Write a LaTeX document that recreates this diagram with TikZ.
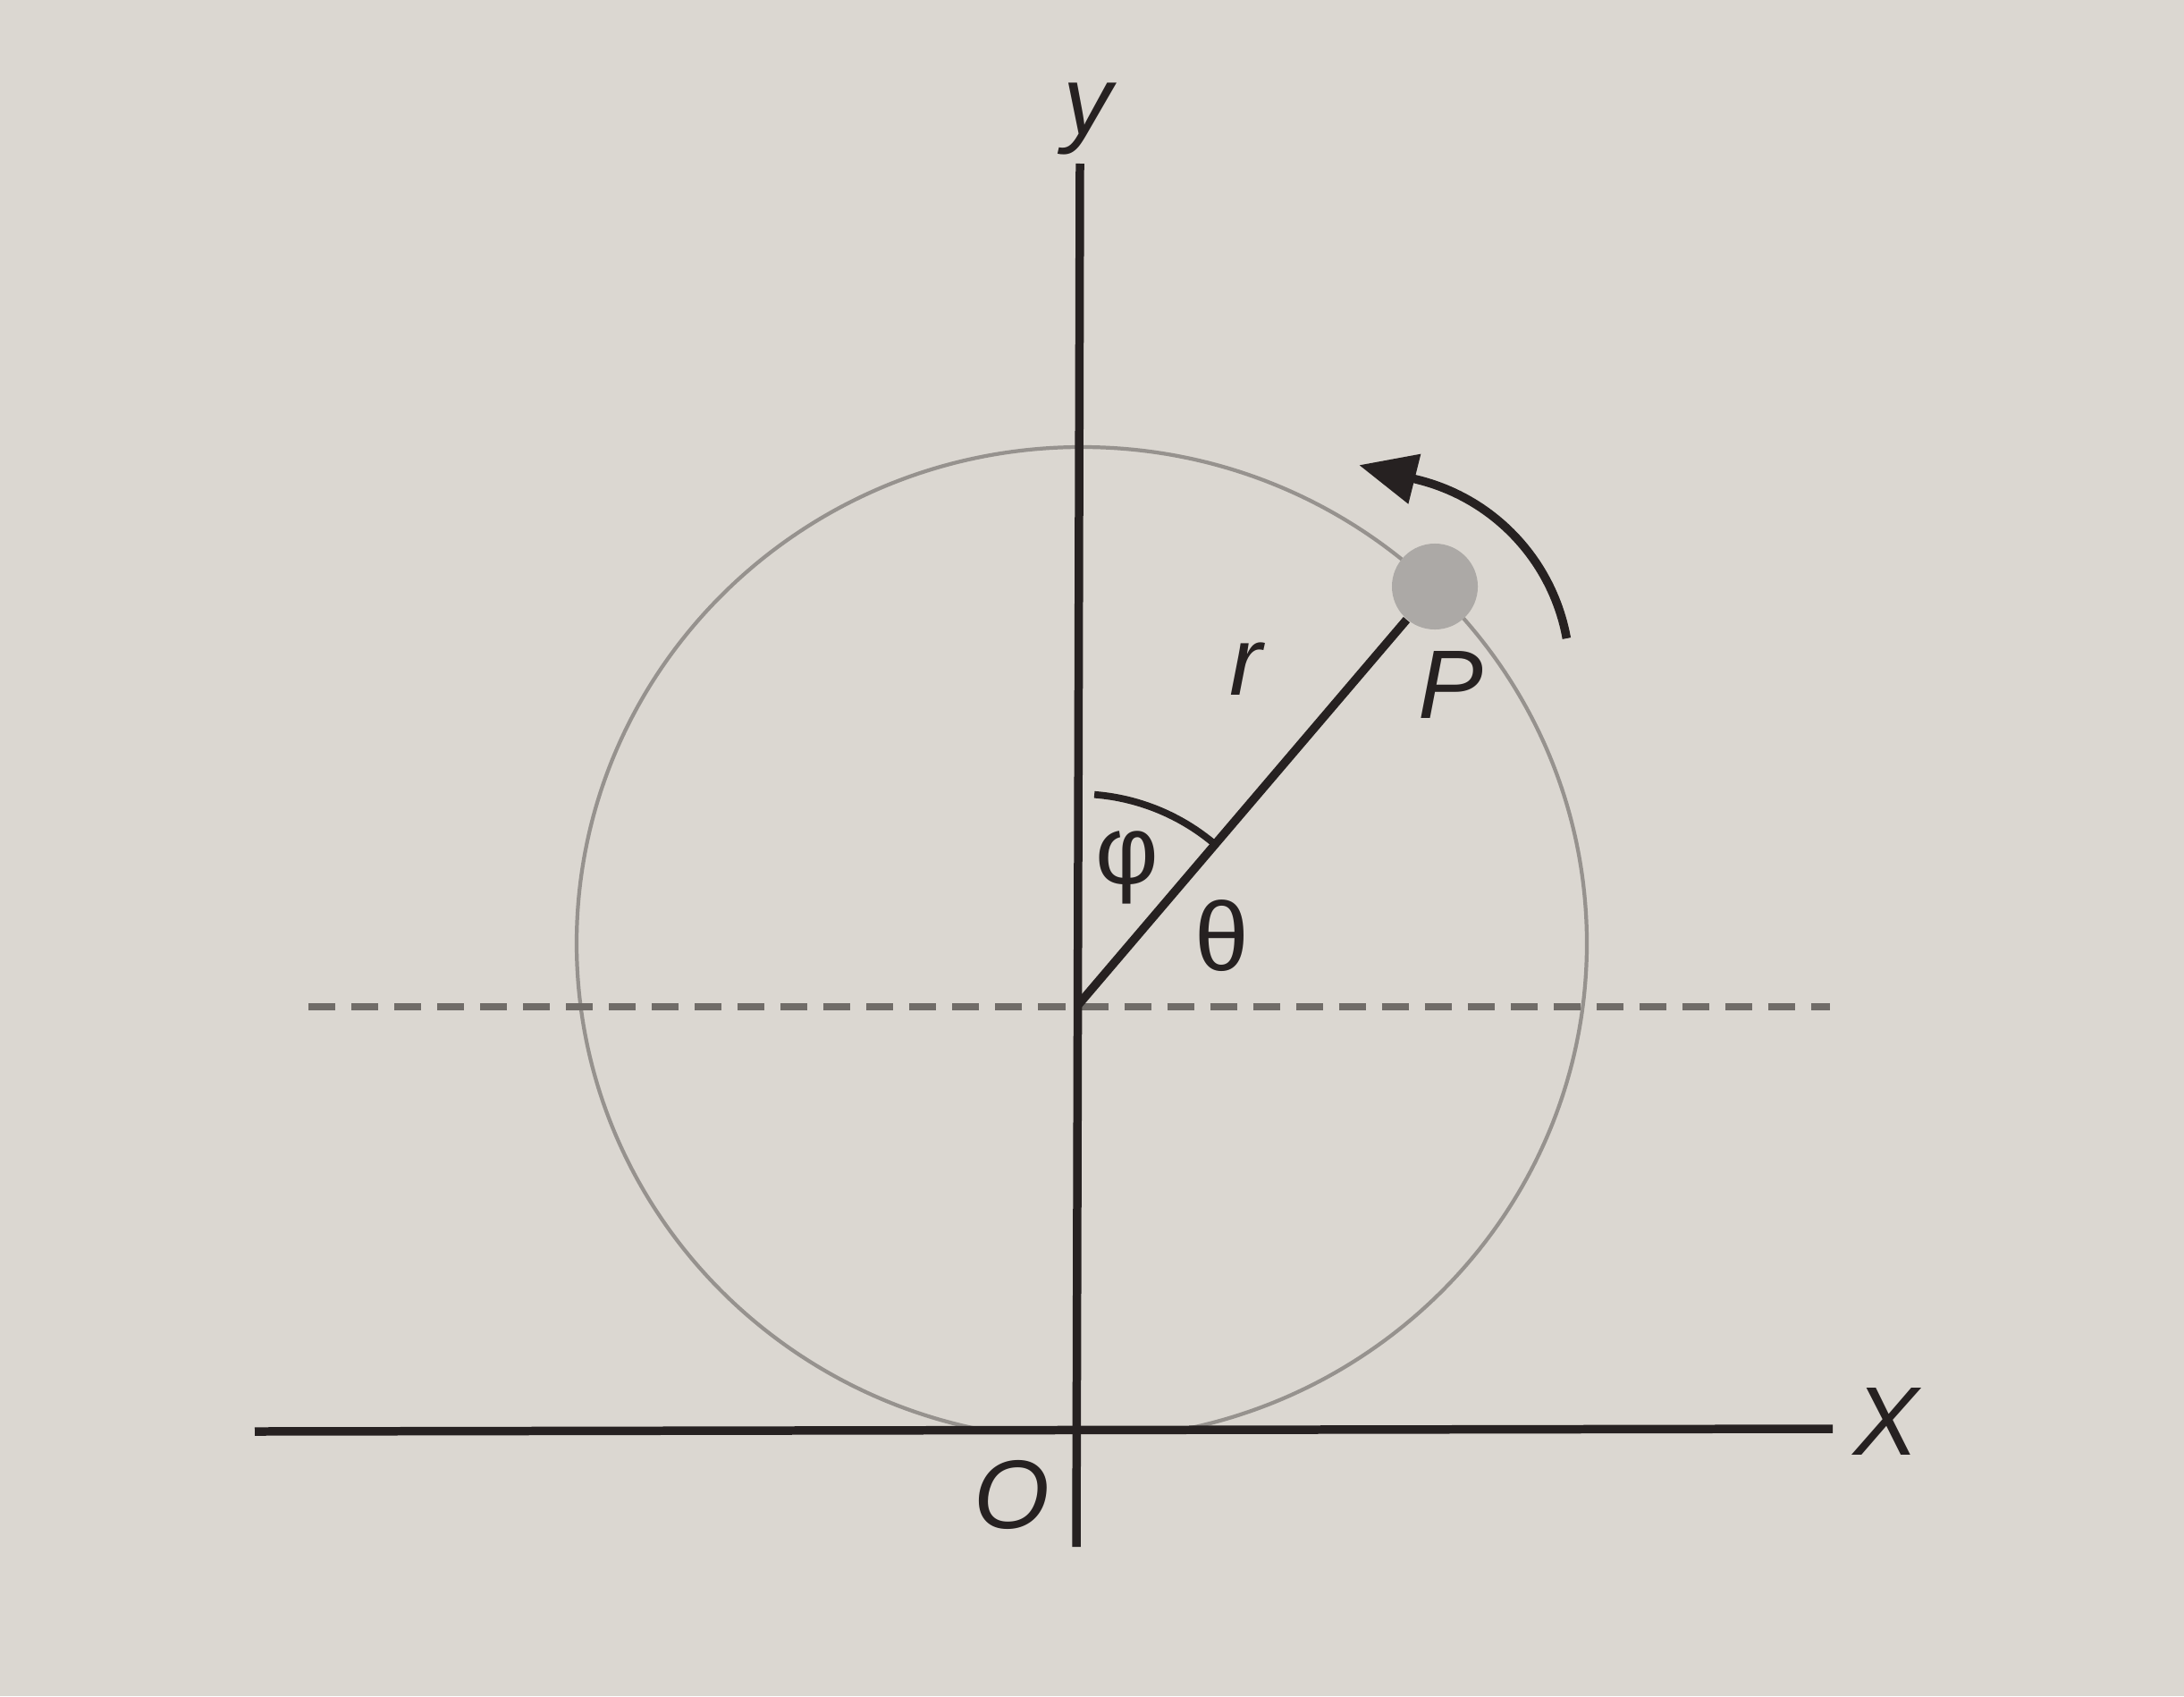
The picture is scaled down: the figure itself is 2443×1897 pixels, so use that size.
\documentclass[tikz,border=0pt]{standalone}
\usepackage{fontspec}
\setmainfont{Liberation Sans}
\usepackage{tikz}
\usetikzlibrary{arrows.meta}
\definecolor{paper}{RGB}{219,215,209}
\definecolor{ink}{RGB}{38,33,33}
\definecolor{pencil}{RGB}{150,146,142}
\definecolor{dashgray}{RGB}{112,108,104}
\definecolor{ballgray}{RGB}{172,169,166}
\tikzset{x=0.01cm, y=0.01cm}

\begin{document}
\begin{tikzpicture}
\tikzstyle{every node} = [text=ink, font=\fontsize{31}{36}\selectfont, inner sep=0pt]
\tikzstyle{axis} = [draw=ink, line width=2.7pt]
\tikzstyle{guide} = [draw=dashgray, line width=2.3pt, dash pattern=on 0.3cm off 0.18cm]
\tikzstyle{mass} = [circle, fill=ballgray, minimum size=0.96cm]
\fill[paper] (0,0) rectangle (2443,-1897);
\useasboundingbox (0,0) rectangle (2443,-1897);

\coordinate (ytop) at (1208,-183);
\coordinate (ybot) at (1204,-1730);
\coordinate (xleft) at (285,-1601);
\coordinate (xright) at (2050,-1598);
\coordinate (dleft) at (345,-1126);
\coordinate (dright) at (2047,-1126);
\coordinate (c) at (1206,-1124);
\coordinate (spin) at (1532,-754);

\begin{scope}
\clip (0,0) rectangle (2443,-1600);
\draw[pencil, line width=1.2pt] (1210,-1055) ellipse [x radius=565, y radius=555];
\end{scope}
\draw[guide] (dleft) -- (dright);
\draw[axis] (xleft) -- (xright);
\draw[axis] (ybot) -- (ytop);
\node[mass] (P) at (1605,-656) {};
\draw[axis] (c) -- (P);
%\draw[axis] (c) -- (ytop);
\draw[axis, line width=2.2pt] (c) ++(49.5:236) arc[start angle=49.5, end angle=85.6, radius=236];
\draw[axis, -{Triangle[length=0.64cm, width=0.55cm]}] (spin) ++(10.3:224) arc[start angle=10.3, end angle=76, radius=224] -- ++(166:68);

\node (ylab) at (1217,-133) {\itshape y};
\node (xlab) at (2110,-1590) {\itshape X};
\node (olab) at (1132,-1672) {\itshape O};
\node (rlab) at (1394,-748) {\itshape r};
\node (plab) at (1623,-766) {\itshape P};
\node (phi) at (1261,-970) {φ};
\node (theta) at (1367,-1047) {θ};
\end{tikzpicture}
\end{document}
